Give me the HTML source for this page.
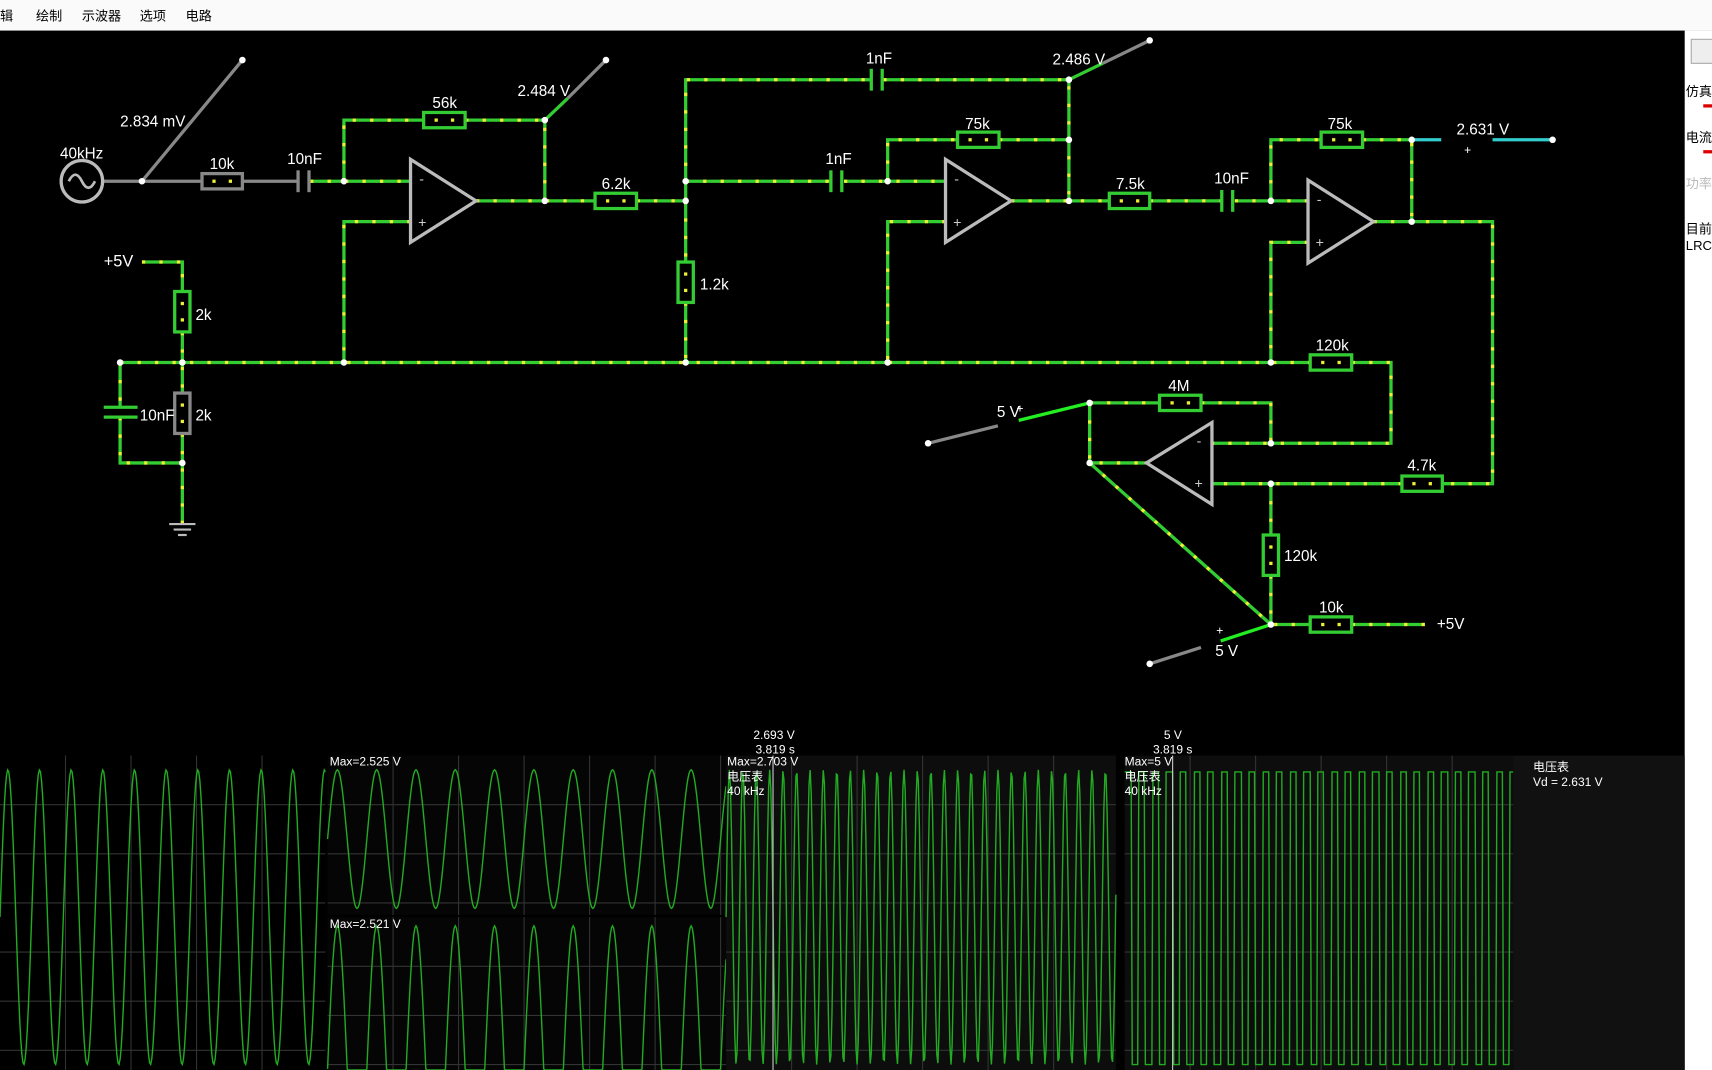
<!DOCTYPE html>
<html><head><meta charset="utf-8"><style>
html,body{margin:0;padding:0;background:#000;width:1712px;height:1070px;overflow:hidden;position:relative}
svg{display:block;position:absolute;left:0;top:0;overflow:hidden}
text{font-family:"Liberation Sans","Noto Sans CJK SC",sans-serif}
</style></head><body>
<svg id="s" width="1712" height="1070" viewBox="0 0 1568 980" xmlns="http://www.w3.org/2000/svg">
<rect width="1568" height="980" fill="#000"/>
<rect x="0" y="0" width="1568" height="28" fill="#fafafa"/>
<g font-size="12" fill="#000"><text x="0" y="19">辑</text><text x="33" y="19">绘制</text><text x="75" y="19">示波器</text><text x="128" y="19">选项</text><text x="170" y="19">电路</text></g>
<rect x="1543" y="28" width="25" height="952" fill="#fff"/>
<g font-size="12" fill="#000"><text x="1555" y="50">重</text><text x="1544" y="88">仿真</text><text x="1544" y="130">电流</text><text x="1544" y="172" fill="#bbb">功率</text><text x="1544" y="214">目前</text><text x="1544" y="229">LRC</text></g>
<rect x="1549" y="36" width="25" height="22" fill="#eee" stroke="#aaa"/>
<g stroke="#d00" stroke-width="3"><line x1="1560" y1="97" x2="1568" y2="97"/><line x1="1560" y1="139" x2="1568" y2="139"/></g>

<g id="w" fill="none" stroke-linecap="butt"></g>
<g fill="none" stroke="#bbb" stroke-width="3">
<polygon points="376,146 376,222 436,184"/>
<polygon points="866,146 866,222 926,184"/>
<polygon points="1198,165 1198,241 1258,203"/>
<polygon points="1110,387 1110,462 1050,424"/>
<circle cx="75" cy="166" r="19"/>
<path d="M63,166 q6,-12 12,0 t12,0" stroke-width="2.5"/>
</g>
<g font-size="13" fill="#ccc"><text x="384" y="168">-</text><text x="383" y="208">+</text><text x="874" y="168">-</text><text x="873" y="208">+</text><text x="1206" y="187">-</text><text x="1205" y="226">+</text><text x="1096" y="408">-</text><text x="1094" y="447">+</text></g>
<g id="comp"></g>
<g font-size="14" fill="#fff">
<text x="55" y="145">40kHz</text><text x="110" y="116">2.834 mV</text><text x="192" y="155">10k</text><text x="263" y="150">10nF</text>
<text x="396" y="99">56k</text><text x="474" y="88">2.484 V</text><text x="551" y="173">6.2k</text><text x="641" y="265">1.2k</text>
<text x="793" y="58">1nF</text><text x="964" y="59">2.486 V</text><text x="756" y="150">1nF</text><text x="884" y="118">75k</text>
<text x="1022" y="173">7.5k</text><text x="1112" y="168">10nF</text><text x="1216" y="118">75k</text><text x="1334" y="123">2.631 V</text>
<text x="1205" y="321">120k</text><text x="1070" y="358">4M</text><text x="913" y="382">5 V</text><text x="1289" y="431">4.7k</text>
<text x="1176" y="514">120k</text><text x="1208" y="561">10k</text><text x="1316" y="576">+5V</text><text x="1113" y="601">5 V</text>
<text x="95" y="244" font-size="15">+5V</text><text x="179" y="293">2k</text><text x="128" y="385">10nF</text><text x="179" y="385">2k</text>
</g>
<g font-size="11" fill="#fff"><text x="1341" y="141">+</text><text x="1114" y="581">+</text><text x="931" y="378">+</text></g>
<g stroke="#bbb" stroke-width="2"><line x1="155" y1="480" x2="179" y2="480"/><line x1="159" y1="485" x2="175" y2="485"/><line x1="163" y1="490" x2="171" y2="490"/></g>

<g id="scope"></g>
<g font-size="11" fill="#fff">
<text x="302" y="701">Max=2.525 V</text><text x="302" y="850">Max=2.521 V</text>
<text x="690" y="677">2.693 V</text><text x="692" y="690">3.819 s</text><text x="666" y="701">Max=2.703 V</text><text x="666" y="715">电压表</text><text x="666" y="728">40 kHz</text>
<text x="1066" y="677">5 V</text><text x="1056" y="690">3.819 s</text><text x="1030" y="701">Max=5 V</text><text x="1030" y="715">电压表</text><text x="1030" y="728">40 kHz</text>
<text x="1404" y="706">电压表</text><text x="1404" y="720">Vd = 2.631 V</text>
</g>
</svg>
<script>
const NS="http://www.w3.org/2000/svg";
function el(p,t,a){const e=document.createElementNS(NS,t);for(const k in a)e.setAttribute(k,a[k]);p.appendChild(e);return e}
const W=document.getElementById('w');
function wire(pts,col){const d="M"+pts.map(p=>p.join(",")).join("L");
 el(W,'path',{d:d,stroke:col||"#3c3",'stroke-width':3});
 if(!col)el(W,'path',{d:d,stroke:"#ee3",'stroke-width':3,'stroke-dasharray':"3 13"});}
const G=[
[[284,166],[376,166]],[[315,166],[315,110],[388,110]],[[426,110],[499,110],[499,184]],
[[376,203],[315,203],[315,332]],[[436,184],[545,184]],[[583,184],[628,184]],
[[628,184],[628,73],[797,73]],[[809,73],[979,73],[979,184]],[[628,166],[760,166]],[[773,166],[866,166]],
[[813,166],[813,128],[877,128]],[[915,128],[979,128]],[[628,184],[628,240]],[[628,277],[628,332]],
[[866,203],[813,203],[813,332]],[[926,184],[1016,184]],[[1053,184],[1118,184]],[[1131,184],[1198,184]],
[[1164,184],[1164,128],[1210,128]],[[1248,128],[1293,128],[1293,203]],[[1258,203],[1367,203],[1367,443],[1321,443]],
[[1198,222],[1164,222],[1164,332]],[[1284,443],[1110,443]],[[110,332],[1200,332]],[[1238,332],[1274,332],[1274,406],[1110,406]],
[[998,369],[1062,369]],[[1100,369],[1164,369],[1164,406]],[[998,369],[998,424],[1050,424]],[[998,424],[1164,572]],
[[1164,443],[1164,490]],[[1164,527],[1164,572],[1200,572]],[[1238,572],[1305,572]],
[[130,240],[167,240],[167,267]],[[167,304],[167,360]],[[167,397],[167,480]],[[110,332],[110,373]],[[110,382],[110,424],[167,424]]];
G.forEach(g=>wire(g));
wire([[94,166],[185,166]],"#888");wire([[222,166],[272,166]],"#888");wire([[130,166],[222,55]],"#888");
wire([[499,110],[520,90]],"#3c3");wire([[520,90],[555,55]],"#888");
wire([[979,73],[1010,58]],"#3c3");wire([[1010,58],[1053,37]],"#888");
wire([[1293,128],[1320,128]],"#3cc");wire([[1367,128],[1422,128]],"#3cc");
wire([[998,369],[933,385]],"#2e2");wire([[914,390],[850,406]],"#888");
wire([[1164,572],[1118,587]],"#2e2");wire([[1100,593],[1053,608]],"#888");
const C=document.getElementById('comp');
function res(x,y,w,h,c){el(C,'rect',{x,y,width:w,height:h,fill:"#000",stroke:c||"#3c3",'stroke-width':3});
 const cx=x+w/2,cy=y+h/2;if(w>h){el(C,'rect',{x:cx-9,y:cy-1.5,width:3,height:3,fill:"#ee3"});el(C,'rect',{x:cx+6,y:cy-1.5,width:3,height:3,fill:"#ee3"});}
 else{el(C,'rect',{x:cx-1.5,y:cy-9,width:3,height:3,fill:"#ee3"});el(C,'rect',{x:cx-1.5,y:cy+6,width:3,height:3,fill:"#ee3"});}}
res(185,159,37,14,"#888");res(388,103,38,14);res(545,177,38,14);res(621,240,14,37);res(877,121,38,14);res(1016,177,37,14);
res(1210,121,38,14);res(1200,325,38,14);res(1062,362,38,14);res(1284,436,37,14);res(1157,490,14,37);res(1200,565,38,14);
res(160,267,14,37);res(160,360,14,37,"#888");
function capV(x,y,c){el(C,'line',{x1:x,y1:y-10,x2:x,y2:y+10,stroke:c||"#3c3",'stroke-width':3});el(C,'line',{x1:x+10,y1:y-10,x2:x+10,y2:y+10,stroke:c||"#3c3",'stroke-width':3});}
capV(273,166,"#888");capV(798,73);capV(761,166);capV(1119,184);
el(C,'line',{x1:95,y1:373,x2:126,y2:373,stroke:"#3c3",'stroke-width':3});el(C,'line',{x1:95,y1:382,x2:126,y2:382,stroke:"#3c3",'stroke-width':3});
[[130,166],[315,166],[499,110],[499,184],[628,184],[628,166],[813,166],[979,128],[979,184],[979,73],[1164,184],[1293,128],[1293,203],[315,332],[628,332],[813,332],[1164,332],[167,332],[110,332],[167,424],[998,369],[998,424],[1164,406],[1164,443],[1164,572],[222,55],[555,55],[1053,37],[1422,128],[850,406],[1053,608]].forEach(p=>el(C,'circle',{cx:p[0],cy:p[1],r:3,fill:"#fff"}));
const S=document.getElementById('scope');
function panel(x0,x1,y0,y1,bg,period,top,bot,sq){el(S,'rect',{x:x0,y:y0,width:x1-x0,height:y1-y0,fill:bg});
 for(let x=x0+60;x<x1;x+=60)el(S,'line',{x1:x,y1:y0,x2:x,y2:y1,stroke:"#333",'stroke-width':1});
 for(let y=y0+45;y<y1;y+=45)el(S,'line',{x1:x0,y1:y,x2:x1,y2:y,stroke:"#333",'stroke-width':1});
 let d="";const mid=(top+bot)/2,a=(bot-top)/2;
 for(let x=x0;x<=x1;x+=1){const ph=(x-x0)/period*2*Math.PI;let v=sq?(Math.sin(ph)>=0?-a:a):-a*Math.sin(ph);d+=(x==x0?"M":"L")+x+","+Math.min(y1,Math.max(y0,mid+v)).toFixed(1);}
 el(S,'path',{d,fill:"none",stroke:"#2a2",'stroke-width':1.3});}
panel(0,298,692,980,"#000",29,705,975);
panel(300,665,692,838,"#050505",36,705,832);
panel(300,665,840,980,"#050505",36,848,1110);
panel(665,1022,692,980,"#0d0d0d",12.3,705,975);
panel(1030,1386,692,980,"#0d0d0d",12.6,707,975,true);
el(S,'rect',{x:1386,y:692,width:157,height:288,fill:"#111"});
el(S,'line',{x1:708,y1:692,x2:708,y2:980,stroke:"#ccc",'stroke-width':1});
el(S,'line',{x1:1074,y1:692,x2:1074,y2:980,stroke:"#ccc",'stroke-width':1});
</script>
</body></html>
